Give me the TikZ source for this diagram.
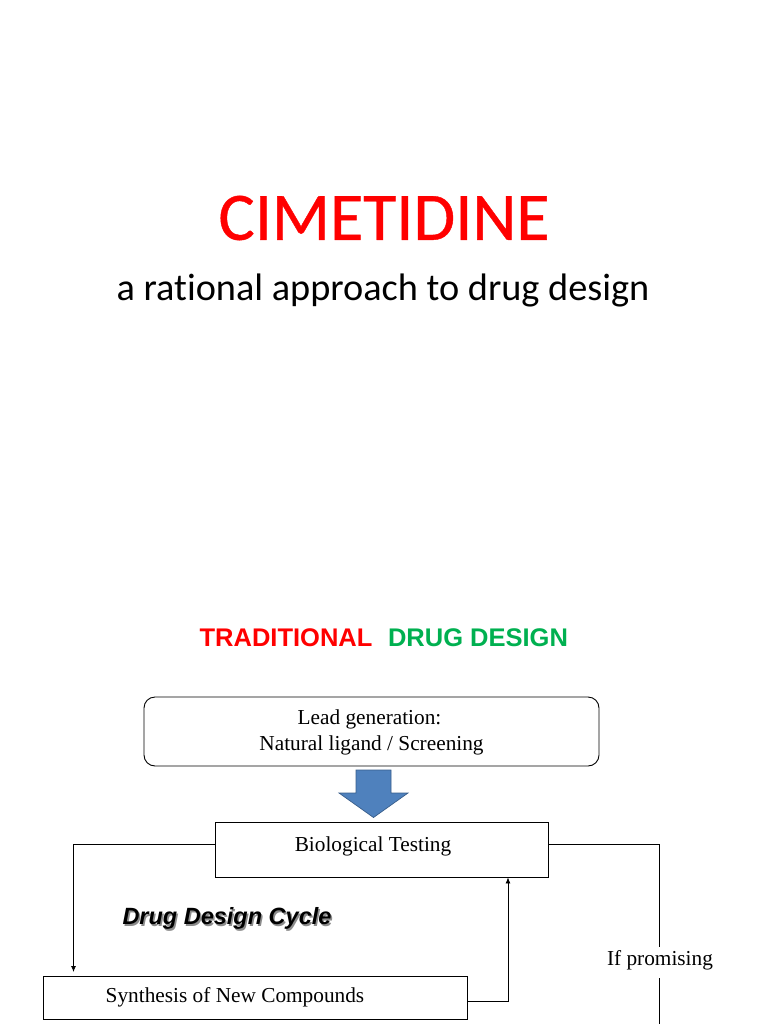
\documentclass[tikz,border=0pt]{standalone}
\usepackage{fontspec}
\setmainfont{Liberation Serif}
\newfontfamily\calib[Ligatures=NoCommon]{Carlito}
\newfontfamily\calibheavy[Ligatures=NoCommon,FakeBold=0.6]{Carlito}
\newfontfamily\arial{Liberation Sans}
\usetikzlibrary{arrows.meta}
\definecolor{dgreen}{RGB}{0,176,80}
\definecolor{barrow}{RGB}{79,129,189}
\definecolor{barrowline}{RGB}{56,93,138}
\tikzset{
  boxed/.style={draw=black,line width=0.9pt,inner sep=0pt,fill=white},
  label/.style={inner sep=0pt,font=\fontsize{21.3}{26}\selectfont,align=center,anchor=center},
  conn/.style={draw=black,line width=0.8pt},
  tip/.style={-{Latex[length=6pt,width=5pt]}}
}
\begin{document}
\begin{tikzpicture}[x=1pt,y=-1pt]
\useasboundingbox (0,0) rectangle (768,1024);
\node[inner sep=0pt,text=red,font=\calibheavy\fontsize{68}{70}\selectfont] (title) at (384,218) {CIMETIDINE};
\node[inner sep=0pt,font=\calib\fontsize{38.3}{44}\selectfont] (sub) at (383,290) {a rational approach to drug design};
\node[inner sep=0pt,text=red,font=\arial\bfseries\fontsize{25.5}{28}\selectfont] (trad) at (286,638) {TRADITIONAL};
\node[inner sep=0pt,text=dgreen,font=\arial\bfseries\fontsize{25.5}{28}\selectfont] (dd) at (478,638) {DRUG DESIGN};

\node[boxed,rounded corners=11pt,minimum width=455pt,minimum height=69pt] (lead) at (371.5,731.5) {};
\node[label] (leadtext) at (371.5,732) {Lead generation:\hspace*{4pt}\\Natural ligand / Screening};

\draw[fill=barrow,draw=barrowline,line width=0.7pt] (356,770) -- (391,770) -- (391,793) -- (408,793) -- (373.5,817.5) -- (339,793) -- (356,793) -- cycle;

\node[boxed,minimum width=333pt,minimum height=55pt] (bio) at (381.5,849.5) {};
\node[label] (biotext) at (373,846) {Biological Testing};
\node[boxed,minimum width=424pt,minimum height=43pt] (syn) at (255,997.5) {};
\node[label] (syntext) at (235,997) {Synthesis of New Compounds};

\node[inner sep=0pt,text=black!45,font=\arial\bfseries\itshape\fontsize{23.5}{28}\selectfont] (cycleshadow) at (228.5,920) {Drug Design Cycle};
\node[inner sep=0pt,font=\arial\bfseries\itshape\fontsize{23.5}{28}\selectfont] (cycle) at (227,918) {Drug Design Cycle};

\node[label] (prom) at (660,960) {If promising};

\coordinate (leftc) at (73.5,844);
\coordinate (leftend) at (73.5,972);
\coordinate (rightc) at (659,844);
\coordinate (prt) at (659,947);
\coordinate (prb) at (659,978);
\coordinate (rightend) at (659,1024);
\coordinate (upc) at (508,1001);
\coordinate (bioL) at (bio.west |- leftc);
\coordinate (bioR) at (bio.east |- rightc);
\coordinate (synR) at (syn.east |- upc);
\coordinate (upend) at (upc |- bio.south);

\draw[conn,tip] (bioL) -- (leftc) -- (leftend);
\draw[conn] (bioR) -- (rightc) -- (prt);
\draw[conn] (prb) -- (rightend);
\draw[conn,tip] (synR) -- (upc) -- (upend);
\end{tikzpicture}
\end{document}
